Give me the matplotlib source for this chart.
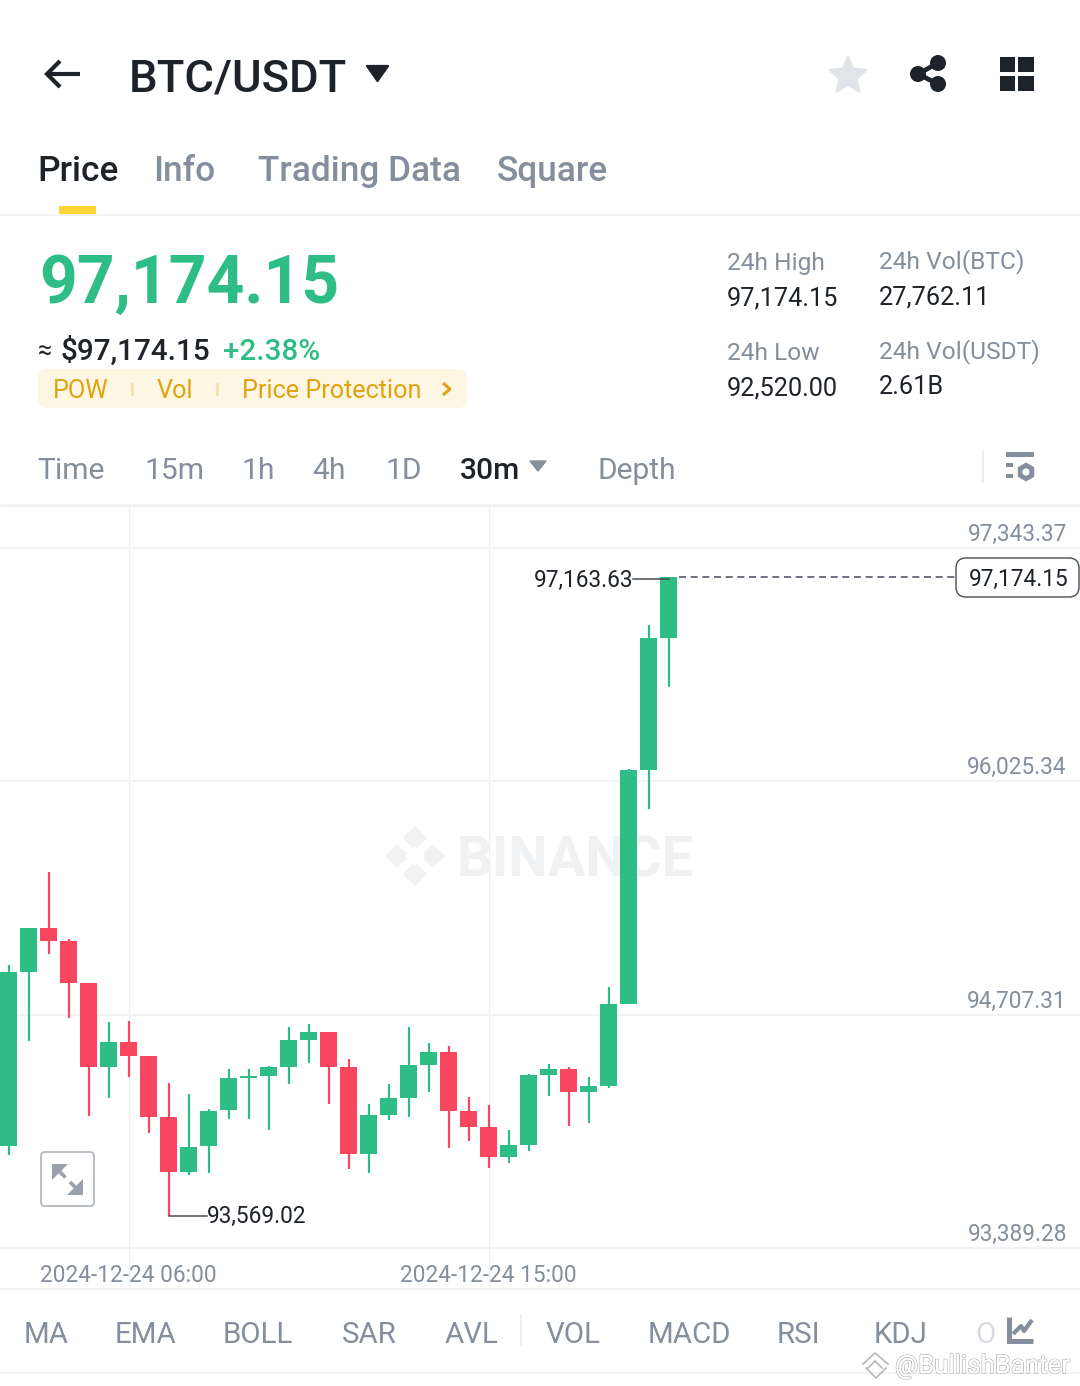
import matplotlib
matplotlib.use("Agg")
import matplotlib.pyplot as plt
import matplotlib.patheffects as pe
from matplotlib.patches import Polygon, Circle, FancyBboxPatch, Rectangle, RegularPolygon
from matplotlib.transforms import ScaledTranslation
import numpy as np

plt.rcParams['font.family'] = ['Roboto', 'DejaVu Sans']

# ---------- data ----------
opens  = [93965,94950,95194,95123,94884,94410,94551,94474,94127,93820,93965,94167,94349,94362,94413,94562,94607,
          94410,93922,94139,94235,94423,94496,94163,94071,93901,93973,94365,94400,94269,94306,94769,96087,96833]
highs  = [94988,95194,95509,95133,94884,94667,94673,94474,94323,94259,94174,94400,94398,94419,94639,94654,94607,
          94455,94201,94315,94636,94545,94530,94240,94195,94056,94370,94427,94413,94353,94862,96093,96904,97174.15]
lows   = [93915,94559,95048,94687,94135,94235,94353,94037,93569.02,93801,93811,94116,94116,94056,94314,94432,94201,
          93834,93814,94112,94127,94269,93952,93993,93841,93867,93937,94248,94076,94093,94291,94769,95867,96558]
closes = [94948,95194,95123,94884,94410,94551,94474,94127,93820,93961,94165,94349,94362,94413,94562,94607,94410,
          93922,94139,94235,94423,94496,94163,94071,93901,93973,94365,94400,94269,94306,94769,96085,96833,97174.15]
price_levels = [97343.37, 96025.34, 94707.31, 93389.28]
price_labels = ['97,343.37', '96,025.34', '94,707.31', '93,389.28']
time_ticks = [6, 24]
time_labels = ['2024-12-24 06:00', '2024-12-24 15:00']
high_value, high_label = 97174.15, '97,163.63'
low_value, low_label = 93569.02, '93,569.02'
last_value, last_label = 97174.15, '97,174.15'
tabs = ['Price', 'Info', 'Trading Data', 'Square']
intervals = ['Time', '15m', '1h', '4h', '1D', '30m', 'Depth']
indicators = ['MA', 'EMA', 'BOLL', 'SAR', 'AVL', 'VOL', 'MACD', 'RSI', 'KDJ']

GREEN, RED = '#2EBD85', '#F9475F'
DARK, GREY = '#1E2329', '#848E9C'
RULE = '#F2F3F5'
W, H = 1080, 1386

fig = plt.figure(figsize=(W/100, H/100), dpi=100, facecolor='white')
ui = fig.add_axes([0, 0, 1, 1], zorder=0)
ui.set_xlim(0, W); ui.set_ylim(H, 0); ui.axis('off')

def T(x, yc, s, px, color=DARK, weight='normal', ha='left', **kw):
    return ui.text(x, yc + 0.356*px, s, fontsize=px*0.72, color=color, weight=weight,
                   ha=ha, va='baseline', **kw)

def rule(y, x0=0, x1=W, c=RULE, lw=2):
    ui.plot([x0, x1], [y, y], color=c, lw=lw*0.72, solid_capstyle='butt')

# ---------- header ----------
ui.plot([47, 80], [74, 74], color=DARK, lw=3.0, solid_capstyle='butt')
ui.plot([60, 47, 60], [61, 74, 87], color=DARK, lw=3.0, solid_capstyle='butt', solid_joinstyle='miter')
T(128.5, 75, 'BTC/USDT', 45.5, weight='medium')
ui.add_patch(Polygon([(367, 66), (388, 66), (377.5, 81)], closed=True, fc=DARK, ec=DARK, lw=1.6, joinstyle='round'))

star = [(848 + (19 if k % 2 == 0 else 8.5)*np.sin(k*np.pi/5), 76 - (19 if k % 2 == 0 else 8.5)*np.cos(k*np.pi/5)) for k in range(10)]
ui.add_patch(Polygon(star, closed=True, fc='#E1E4E8', ec='#E1E4E8', lw=2, joinstyle='round'))

ui.plot([938, 918, 938], [63, 74, 84], color=DARK, lw=3.4, solid_capstyle='butt')
for cx, cy in [(938, 63), (918, 74), (938, 84)]:
    ui.add_patch(Circle((cx, cy), 8, fc=DARK, ec='none'))

for x0, y0, w, h in [(1000, 57, 15, 15), (1018, 57, 16, 15), (1000, 76, 15, 15), (1018, 76, 16, 15)]:
    ui.add_patch(Rectangle((x0, y0), w, h, fc=DARK, ec='none'))

# ---------- tabs ----------
for s, x, c in zip(tabs, [37.5, 153.5, 258, 497], [DARK, GREY, GREY, GREY]):
    T(x, 168.5, s, 35.3, color=c, weight='medium')
ui.add_patch(Rectangle((59, 206), 37, 8, fc='#FCD535', ec='none'))
rule(214.5)

# ---------- price block ----------
T(39, 280, '97,174.15', 66, color=GREEN, weight='bold')
T(38, 349, '≈', 25, weight='normal')
T(61, 349, '$97,174.15', 29.6, weight='medium')
T(223.5, 349, '+2.38%', 29.6, color=GREEN, weight='medium')

ui.add_patch(FancyBboxPatch((38, 369), 429, 39, boxstyle='round,pad=0,rounding_size=9', fc='#FDF6E3', ec='none'))
AMB = '#E0A30E'
T(53, 389, 'POW', 25.2, color=AMB)
T(157, 389, 'Vol', 25.2, color=AMB)
T(242.5, 389, 'Price Protection', 25.2, color=AMB)
for x in [132, 217]:
    ui.plot([x, x], [384, 394], color='#F3DFA8', lw=2)
ui.plot([443, 450, 443], [383, 389, 395], color=AMB, lw=2.2, solid_capstyle='butt')

for x, y1, y2, a, b in [(727, 261, 296, '24h High', '97,174.15'), (879, 260, 295, '24h Vol(BTC)', '27,762.11'),
                        (727, 351, 386, '24h Low', '92,520.00'), (879, 350, 385, '24h Vol(USDT)', '2.61B')]:
    T(x, y1, a, 24.5, color=GREY)
    T(x, y2, b, 25.3)

# ---------- interval row ----------
for s, x in zip(intervals, [37, 144, 241.5, 312.5, 385.5, 459.5, 597.5]):
    if s == '30m':
        T(x, 468, s, 30, weight='medium')
    else:
        T(x, 468, s, 30, color=GREY)
ui.add_patch(Polygon([(530, 461), (546, 461), (538, 471)], closed=True, fc=GREY, ec=GREY, lw=1))
ui.plot([983, 983], [452, 482], color='#EAECEF', lw=1.4)
ui.add_patch(Rectangle((1006, 452), 28, 4.5, fc=GREY, ec='none'))
ui.add_patch(Rectangle((1006, 463), 7, 4, fc=GREY, ec='none'))
ui.add_patch(Rectangle((1006, 474), 7, 4, fc=GREY, ec='none'))
ui.add_patch(RegularPolygon((1026, 472), 6, radius=9.5, fc=GREY, ec='none'))
ui.add_patch(Circle((1026, 472), 3.6, fc='white', ec='none'))
rule(505, lw=3)

# ---------- chart watermark ----------
WM = '#F0F1F3'
for cx, cy, r in [(415, 838, 12), (415, 874, 12), (397, 856, 12), (433, 856, 12)]:
    ui.add_patch(Polygon([(cx, cy-r), (cx+r, cy), (cx, cy+r), (cx-r, cy)], closed=True, fc=WM, ec='none'))
ui.add_patch(Polygon([(415, 846), (425, 856), (415, 866), (405, 856)], closed=True, fc='white', ec='none'))
T(457, 857, 'BINANCE', 56, color=WM, weight='bold')

# ---------- candlestick axes ----------
py = (1248 - 781) / (price_levels[1] - price_levels[3])   # px per dollar
top, bot = 505, 1288
ax = fig.add_axes([0, 1 - bot/H, 1, (bot - top)/H], zorder=1)
ax.patch.set_alpha(0)
ax.set_xlim(-0.425, 53.575)
ax.set_ylim(price_levels[3] - (bot - 1248)/py, price_levels[3] + (1248 - top)/py)
for s in ax.spines.values():
    s.set_visible(False)
ax.set_axisbelow(True)
ax.grid(True, axis='y', color=RULE, lw=1.5)
ax.grid(True, axis='x', color='#ECEEF1', lw=0.9)
ax.yaxis.tick_right()
ax.set_yticks(price_levels, price_labels)
ax.set_xticks(time_ticks, time_labels)
LBL = 22.6*0.72
ax.tick_params(axis='y', length=0, pad=-13*0.72, labelsize=LBL, labelcolor=GREY)
ax.tick_params(axis='x', length=0, pad=-24*0.72, labelsize=LBL, labelcolor=GREY)
up2 = ScaledTranslation(0, 0.02, fig.dpi_scale_trans)
for lab in ax.get_yticklabels():
    lab.set_ha('right'); lab.set_va('bottom')
    lab.set_transform(lab.get_transform() + up2)

idx = np.arange(len(opens))
o, h, l, c = map(np.array, (opens, highs, lows, closes))
colors = [GREEN if ci >= oi else RED for oi, ci in zip(o, c)]
ax.vlines(idx, l, h, colors=colors, lw=1.6, zorder=3)
ax.bar(idx, np.abs(c - o), bottom=np.minimum(o, c), width=0.86, color=colors, zorder=4)

# high / low / last markers
ax.plot([len(opens) - 1, 31.2], [high_value - 8, high_value - 8], color='#474D57', lw=1.1, zorder=5)
ax.annotate(high_label, (31.2, high_value - 8), xytext=(0.5, -0.8), textcoords='offset points',
            ha='right', va='center', fontsize=LBL, color=DARK, zorder=6)
ax.plot([8, 9.9], [low_value, low_value], color='#474D57', lw=1.1, zorder=5)
ax.annotate(low_label, (9.9, low_value), xytext=(0, 0), textcoords='offset points',
            ha='left', va='center', fontsize=LBL, color=DARK, zorder=6)
ax.plot([33.5, 47.3], [last_value, last_value], color='#6B7280', lw=1.4, dashes=(3.6, 2.4), zorder=2)
ax.annotate(last_label, (50.5, last_value), xytext=(0, -1.5), textcoords='offset points',
            ha='center', va='center', fontsize=LBL, color=DARK, zorder=6, annotation_clip=False)
ui.add_patch(FancyBboxPatch((956, 558), 123, 39, boxstyle='round,pad=0,rounding_size=10',
                            fc='white', ec='#474D57', lw=1.0))

# ---------- expand button ----------
ui.add_patch(FancyBboxPatch((41, 1152), 53, 54, boxstyle='round,pad=0,rounding_size=4',
                            fc='white', ec='#AEB4BC', lw=1.2))
AR = '#9AA1AC'
ui.add_patch(Polygon([(52, 1164), (68, 1164), (52, 1180)], closed=True, fc=AR, ec='none'))
ui.add_patch(Polygon([(83, 1195), (67, 1195), (83, 1179)], closed=True, fc=AR, ec='none'))
ui.plot([58, 65.5], [1170, 1177.5], color=AR, lw=2.6, solid_capstyle='butt')
ui.plot([77, 70], [1189, 1182], color=AR, lw=2.6, solid_capstyle='butt')

# ---------- bottom row ----------
rule(1288.5)
rule(1372.5)
for s, x in zip(indicators, [23.5, 114.5, 222.5, 341.5, 445, 545.5, 647.5, 776.5, 873.5]):
    T(x, 1332, s, 29.5, color=GREY)
ui.plot([521, 521], [1315, 1345], color='#EAECEF', lw=1.2)
T(975, 1332, 'O', 29.5, color='#D8DBE0')
ui.plot([1009, 1009, 1033], [1317, 1341, 1341], color=GREY, lw=3.6, solid_capstyle='butt', solid_joinstyle='miter')
ui.plot([1013, 1021, 1024, 1032], [1334, 1326, 1331, 1320], color=GREY, lw=3, solid_capstyle='butt')

# ---------- corner watermark ----------
T(895, 1364, '@BullishBanter', 25.8, color='white',
  path_effects=[pe.withStroke(linewidth=1.0, foreground='#A8ACB2'), pe.Normal()])
for pts in [[(863, 1364), (875, 1353), (888, 1364)], [(868, 1368), (875, 1361), (882, 1368)], [(866, 1368), (876, 1378), (886, 1368)]]:
    ui.plot(*zip(*pts), color='#B5B8BD', lw=1.2)

fig.savefig('out.png', dpi=100, facecolor='white')
